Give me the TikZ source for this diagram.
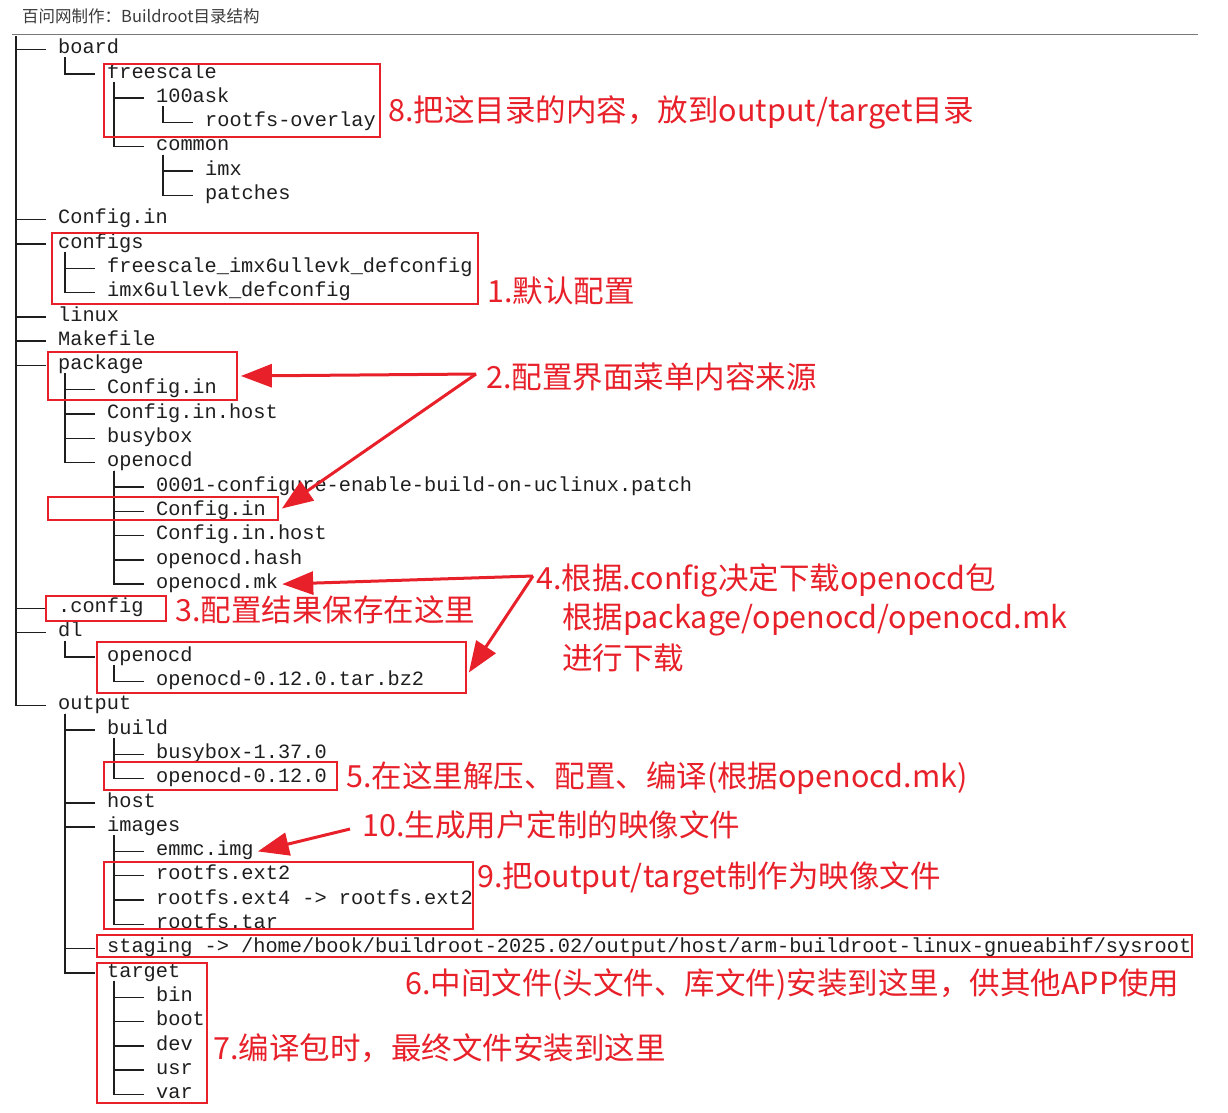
\documentclass[tikz,border=0pt]{standalone}
\usepackage{fontspec}
\setmonofont{Liberation Mono}
\newfontfamily\cjk{Noto Sans CJK SC}
\usetikzlibrary{arrows.meta,fit}
\definecolor{hlred}{RGB}{232,32,42}
\definecolor{treeink}{RGB}{30,30,30}
\definecolor{titlegray}{RGB}{60,60,60}
\definecolor{rulegray}{RGB}{120,120,120}
\tikzset{
  item/.style={anchor=west, inner sep=0pt, text height=12pt, text depth=3.5pt,
    yshift=-2.5pt, text=treeink, font=\fontsize{20.3}{24}\ttfamily},
  tree/.style={draw=treeink, line width=1.4pt},
  hlbox/.style={draw=hlred, line width=1.8pt, inner sep=0pt},
  note/.style={anchor=west, inner sep=0pt, yshift=-2pt, text=hlred,
    font=\cjk\fontsize{30.5}{36}\selectfont},
  callout/.style={draw=hlred, line width=3pt, -{Triangle[length=31pt,width=23pt]}},
}
\begin{document}
\begin{tikzpicture}[x=1pt, y=-1pt]
  \fill[white] (0,0) rectangle (1228,1112);
  \useasboundingbox (0,0) rectangle (1228,1112);
  \node[anchor=west, inner sep=0pt, text=titlegray, font=\cjk\fontsize{16.5}{19}\selectfont]
    (title) at (22,16) {百问网制作：Buildroot目录结构};
  \draw[rulegray, line width=1pt] (12,34) -- (1198,34);
  \node[inner sep=0pt, minimum size=0pt] (root) at (9,36) {};

  % directory entries, one row every 24.3px
  \node[item] (board)      at (58,47)    {board};
  \node[item] (freescale)  at (107,71.3) {freescale};
  \node[item] (ask)        at (156,95.6) {100ask};
  \node[item] (overlay)    at (205,119.9) {rootfs-overlay};
  \node[item] (common)     at (156,144.2) {common};
  \node[item] (imx)        at (205,168.5) {imx};
  \node[item] (patches)    at (205,192.8) {patches};
  \node[item] (cfgin)      at (58,217.1) {Config.in};
  \node[item] (configs)    at (58,241.4) {configs};
  \node[item] (defcfgfs)   at (107,265.7) {freescale\_imx6ullevk\_defconfig};
  \node[item] (defcfg)     at (107,290)  {imx6ullevk\_defconfig};
  \node[item] (linux)      at (58,314.3) {linux};
  \node[item] (makefile)   at (58,338.6) {Makefile};
  \node[item] (package)    at (58,362.9) {package};
  \node[item] (pkgcfg)     at (107,387.2) {Config.in};
  \node[item] (pkgcfghost) at (107,411.5) {Config.in.host};
  \node[item] (busybox)    at (107,435.8) {busybox};
  \node[item] (openocd)    at (107,460.1) {openocd};
  \node[item] (patch)      at (156,484.4) {0001-configure-enable-build-on-uclinux.patch};
  \node[item] (occfg)      at (156,508.7) {Config.in};
  \node[item] (occfghost)  at (156,533)  {Config.in.host};
  \node[item] (hash)       at (156,557.3) {openocd.hash};
  \node[item] (mk)         at (156,581.6) {openocd.mk};
  \node[item] (dotconfig)  at (58,605.9) {.config};
  \node[item] (dl)         at (58,630.2) {dl};
  \node[item] (dlocd)      at (107,654.5) {openocd};
  \node[item] (tarball)    at (156,678.8) {openocd-0.12.0.tar.bz2};
  \node[item] (output)     at (58,703.1) {output};
  \node[item] (build)      at (107,727.4) {build};
  \node[item] (bbsrc)      at (156,751.7) {busybox-1.37.0};
  \node[item] (ocsrc)      at (156,776)  {openocd-0.12.0};
  \node[item] (host)       at (107,800.3) {host};
  \node[item] (images)     at (107,824.6) {images};
  \node[item] (emmc)       at (156,848.9) {emmc.img};
  \node[item] (ext2)       at (156,873.2) {rootfs.ext2};
  \node[item] (ext4)       at (156,897.5) {rootfs.ext4 -> rootfs.ext2};
  \node[item] (tar)        at (156,921.8) {rootfs.tar};
  \node[item] (staging)    at (107,946.1) {staging -> /home/book/buildroot-2025.02/output/host/arm-buildroot-linux-gnueabihf/sysroot};
  \node[item] (target)     at (107,970.4) {target};
  \node[item] (bin)        at (156,994.7) {bin};
  \node[item] (boot)       at (156,1019) {boot};
  \node[item] (dev)        at (156,1043.3) {dev};
  \node[item] (usr)        at (156,1067.6) {usr};
  \node[item] (var)        at (156,1091.9) {var};

  % tree branches
  \foreach \p/\c in {root/board, root/cfgin, root/configs, root/linux, root/makefile,
      root/package, root/dotconfig, root/dl, root/output,
      board/freescale, freescale/ask, freescale/common, ask/overlay,
      common/imx, common/patches, configs/defcfgfs, configs/defcfg,
      package/pkgcfg, package/pkgcfghost, package/busybox, package/openocd,
      openocd/patch, openocd/occfg, openocd/occfghost, openocd/hash, openocd/mk,
      dl/dlocd, dlocd/tarball,
      output/build, output/host, output/images, output/staging, output/target,
      build/bbsrc, build/ocsrc, images/emmc, images/ext2, images/ext4, images/tar,
      target/bin, target/boot, target/dev, target/usr, target/var}
    \draw[tree] ([xshift=7pt]\p.south west) |- ([xshift=-12pt]\c.west);

  % highlight boxes
  \node[hlbox, fit={(104,64) (380,137)}]   (fsbox) {};
  \node[hlbox, fit={(52,233) (478,304)}]   (cfgsbox) {};
  \node[hlbox, fit={(48,352) (237,400)}]   (pkgbox) {};
  \node[hlbox, fit={(48,497) (278,520)}]   (ocfgbox) {};
  \node[hlbox, fit={(46,596) (166,621)}]   (dotbox) {};
  \node[hlbox, fit={(97,642) (466,693)}]   (dlbox) {};
  \node[hlbox, fit={(104,762) (337,790)}]  (bldbox) {};
  \node[hlbox, fit={(104,862) (473,929)}]  (rfsbox) {};
  \node[hlbox, fit={(97,935) (1192,957)}]  (stgbox) {};
  \node[hlbox, fit={(97,963) (207,1103)}]  (tgtbox) {};

  % notes
  \node[note] (note8)  at (388,110) {8.把这目录的内容，放到output/target目录};
  \node[note] (note1)  at (487,289) {1.默认配置};
  \node[note] (note2)  at (486,375) {2.配置界面菜单内容来源};
  \node[note] (note3)  at (175,608) {3.配置结果保存在这里};
  \node[note] (note4)  at (536,578) {4.根据.config决定下载openocd包};
  \node[note] (note4b) at (562,617) {根据package/openocd/openocd.mk};
  \node[note] (note4c) at (562,656) {进行下载};
  \node[note] (note5)  at (346,776) {5.在这里解压、配置、编译(根据openocd.mk)};
  \node[note] (note10) at (362,823) {10.生成用户定制的映像文件};
  \node[note] (note9)  at (477,876) {9.把output/target制作为映像文件};
  \node[note] (note6)  at (405,983) {6.中间文件(头文件、库文件)安装到这里，供其他APP使用};
  \node[note] (note7)  at (213,1046) {7.编译包时，最终文件安装到这里};

  % arrows
  \coordinate (from2) at (476,374);
  \coordinate (from4) at (533,576);
  \coordinate (from10) at (350,829);
  \draw[callout] (from2) -- ([xshift=3pt]pkgbox.east);
  \draw[callout] (from2) -- ([xshift=3pt]ocfgbox.east);
  \draw[callout] (from4) -- ([xshift=4pt]mk.east);
  \draw[callout] (from4) -- ([yshift=-5pt,xshift=2pt]dlbox.east);
  \draw[callout] (from10) -- ([xshift=4pt]emmc.east);
\end{tikzpicture}
\end{document}
